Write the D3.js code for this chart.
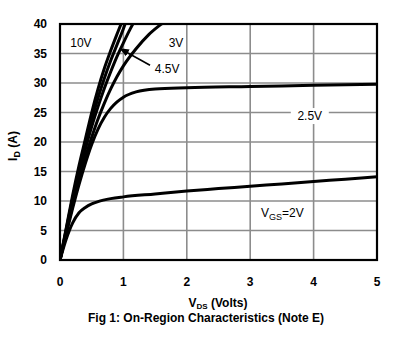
<!DOCTYPE html>
<html><head><meta charset="utf-8">
<script src="https://cdn.jsdelivr.net/npm/d3@7"></script>
<style>
html,body{margin:0;padding:0;background:#fff;}
svg text{font-family:"Liberation Sans",Arial,sans-serif;}
</style></head>
<body><svg id="c" width="400" height="339"></svg>
<script>
// ---- data ----
const xTicks = [0,1,2,3,4,5];
const yTicks = [0,5,10,15,20,25,30,35,40];
const vgs10 = [[0,0],[0.1,5.5],[0.2,11],[0.3,16],[0.4,20.5],[0.5,25],[0.6,29],[0.7,32.5],[0.8,35.5],[0.9,38.3],[1.0,41]];
const vgs6  = [[0,0],[0.1,5.3],[0.2,10.5],[0.3,15.3],[0.4,19.7],[0.5,23.8],[0.6,27.5],[0.7,30.8],[0.8,33.8],[0.9,36.5],[1.0,39.2],[1.06,41]];
const vgs45 = [[0,0],[0.1,5],[0.2,10],[0.3,14.6],[0.4,18.8],[0.5,22.6],[0.6,26],[0.7,29.1],[0.8,31.9],[0.9,34.5],[1.0,36.8],[1.1,39],[1.2,41]];
const vgs3  = [[0,0],[0.1,4.8],[0.2,9.4],[0.3,13.6],[0.4,17.4],[0.5,20.8],[0.6,23.9],[0.7,26.6],[0.8,29],[0.9,31.1],[1.0,32.9],[1.2,35.8],[1.4,38.2],[1.6,40],[1.7,40.8]];
const vgs25 = [[0,0],[0.1,4.5],[0.2,8.8],[0.3,12.8],[0.4,16.4],[0.5,19.6],[0.6,22.2],[0.7,24.2],[0.8,25.7],[0.9,26.8],[1.0,27.6],[1.2,28.5],[1.5,29],[2,29.2],[3,29.4],[4,29.6],[5,29.8]];
const vgs2  = [[0,0],[0.1,3.6],[0.2,6.3],[0.3,8.0],[0.4,8.9],[0.5,9.5],[0.6,9.9],[0.8,10.4],[1,10.7],[1.5,11.2],[2,11.7],[2.5,12.1],[3,12.5],[3.5,12.9],[4,13.3],[4.5,13.7],[5,14.1]];
const curves = [vgs10, vgs6, vgs45, vgs3, vgs25, vgs2];
const labels = [
  {t:"10V", x:0.33, y:36.8, anchor:"middle"},
  {t:"3V", x:1.83, y:36.8, anchor:"middle"},
  {t:"4.5V", x:1.69, y:32.4, anchor:"middle"},
];
const arrowFrom = [1.42, 33.0], arrowTo = [0.95, 35.8];
const label25 = {t:"2.5V", x:3.94, y:24.4};
const label2 = {x:3.17, y:8.0};

// ---- layout ----
const svg = d3.select("#c");
const L=60, R=377, T=24, B=260;
const x = d3.scaleLinear().domain([0,5]).range([L,R]);
const y = d3.scaleLinear().domain([0,40]).range([B,T]);

svg.append("defs").append("clipPath").attr("id","clip")
  .append("rect").attr("x",L).attr("y",T).attr("width",R-L).attr("height",B-T);
const mk = svg.select("defs").append("marker").attr("id","ah")
  .attr("viewBox","0 0 10 10").attr("refX",9).attr("refY",5)
  .attr("markerWidth",6).attr("markerHeight",6).attr("orient","auto");
mk.append("path").attr("d","M0,1 L10,5 L0,9 z").attr("fill","#000");

// grid
svg.append("g").selectAll("line").data(xTicks.slice(1,-1)).join("line")
  .attr("x1",d=>x(d)).attr("x2",d=>x(d)).attr("y1",T).attr("y2",B)
  .attr("stroke","#8c8c8c").attr("stroke-width",1.6);
svg.append("g").selectAll("line").data(yTicks.slice(1,-1)).join("line")
  .attr("y1",d=>y(d)).attr("y2",d=>y(d)).attr("x1",L).attr("x2",R)
  .attr("stroke","#8c8c8c").attr("stroke-width",1.6);

// 2.5V label with white bg (over grid)
const g25 = svg.append("g");
g25.append("rect").attr("x",x(label25.x)-19).attr("y",y(label25.y)-8).attr("width",38).attr("height",16).attr("fill","#fff");
g25.append("text").attr("x",x(label25.x)).attr("y",y(label25.y)).attr("dy","0.36em")
  .attr("text-anchor","middle").attr("font-size",12).text(label25.t);

// curves
const line = d3.line().x(d=>x(d[0])).y(d=>y(d[1])).curve(d3.curveMonotoneX);
svg.append("g").attr("clip-path","url(#clip)").selectAll("path").data(curves).join("path")
  .attr("d",line).attr("fill","none").attr("stroke","#000").attr("stroke-width",3)
  .attr("stroke-linejoin","round").attr("stroke-linecap","round");

// border
svg.append("rect").attr("x",L).attr("y",T).attr("width",R-L).attr("height",B-T)
  .attr("fill","none").attr("stroke","#000").attr("stroke-width",2.2);

// labels
svg.append("g").selectAll("text").data(labels).join("text")
  .attr("x",d=>x(d.x)).attr("y",d=>y(d.y)).attr("dy","0.36em")
  .attr("text-anchor",d=>d.anchor).attr("font-size",12).text(d=>d.t);
svg.append("line").attr("x1",x(arrowFrom[0])).attr("y1",y(arrowFrom[1]))
  .attr("x2",x(arrowTo[0])).attr("y2",y(arrowTo[1]))
  .attr("stroke","#000").attr("stroke-width",1.6).attr("marker-end","url(#ah)");
const t2 = svg.append("text").attr("x",x(label2.x)).attr("y",y(label2.y)).attr("dy","0.36em").attr("font-size",12);
t2.append("tspan").text("V");
t2.append("tspan").attr("font-size",9).attr("dy",3).text("GS");
t2.append("tspan").attr("dy",-3).text("=2V");

// ticks
svg.append("g").selectAll("text").data(yTicks).join("text")
  .attr("x",47).attr("y",d=>y(d)).attr("dy","0.36em").attr("text-anchor","end")
  .attr("font-size",12).attr("font-weight","bold").text(d=>d);
svg.append("g").selectAll("text").data(xTicks).join("text")
  .attr("x",d=>x(d)).attr("y",282).attr("dy","0.36em").attr("text-anchor","middle")
  .attr("font-size",12).attr("font-weight","bold").text(d=>d);

// axis titles
const yt = svg.append("text").attr("transform","translate(17,146) rotate(-90)")
  .attr("text-anchor","middle").attr("font-size",12).attr("font-weight","bold");
yt.append("tspan").text("I");
yt.append("tspan").attr("font-size",9).attr("dy",3).text("D");
yt.append("tspan").attr("dy",-3).text(" (A)");

const xt = svg.append("text").attr("x",218).attr("y",307)
  .attr("text-anchor","middle").attr("font-size",12).attr("font-weight","bold");
xt.append("tspan").text("V");
xt.append("tspan").attr("font-size",8).attr("dy",2).text("DS");
xt.append("tspan").attr("dy",-2).text(" (Volts)");

svg.append("text").attr("x",206).attr("y",322)
  .attr("text-anchor","middle").attr("font-size",12).attr("font-weight","bold")
  .text("Fig 1: On-Region Characteristics (Note E)");
</script></body></html>
